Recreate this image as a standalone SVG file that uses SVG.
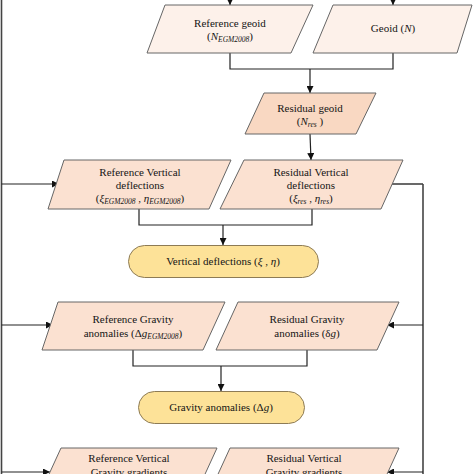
<svg xmlns="http://www.w3.org/2000/svg" width="474" height="474" viewBox="0 0 474 474">
<defs>
<marker id="arr" viewBox="0 0 10 10" refX="10" refY="5" markerWidth="7" markerHeight="7" markerUnits="userSpaceOnUse" orient="auto">
<path d="M0,0 L10,5 L0,10 z" fill="#111"/>
</marker>
</defs>
<style>
.pl{stroke:#666;stroke-width:1}
.light{fill:#fdf1ea}
.mid{fill:#fbe1d1}
.dark{fill:#f9d8c2}
.rr{fill:#fde298;stroke:#8d7b55;stroke-width:1}
.ln{fill:none;stroke:#222;stroke-width:1.2}
.side{fill:none;stroke:#444;stroke-width:1.6}
text{font-family:"Liberation Serif","Times New Roman",serif;font-size:11px;fill:#151515;text-anchor:middle}
.sub{font-size:7.5px;font-style:italic}
.it{font-style:italic}
</style>
<rect width="474" height="474" fill="#fff"/>
<g id="connectors">
<line class="side" x1="1.5" y1="0" x2="1.5" y2="474"/>
<line class="side" x1="423" y1="184" x2="423" y2="474"/>
<line class="ln" x1="230" y1="0" x2="230" y2="5" marker-end="url(#arr)"/>
<line class="ln" x1="393" y1="0" x2="393" y2="5" marker-end="url(#arr)"/>
<polyline class="ln" points="230,53 230,69 393,69 393,53"/>
<line class="ln" x1="310" y1="69" x2="310" y2="93" marker-end="url(#arr)"/>
<line class="ln" x1="310" y1="134" x2="311" y2="160" marker-end="url(#arr)"/>
<line class="ln" x1="1.5" y1="184" x2="59" y2="184" marker-end="url(#arr)"/>
<polyline class="side" points="391,184 423,184"/>
<polyline class="ln" points="139,209 139,225 312,225 312,209"/>
<line class="ln" x1="223" y1="225" x2="223" y2="245" marker-end="url(#arr)"/>
<line class="ln" x1="1.5" y1="325" x2="53" y2="325" marker-end="url(#arr)"/>
<line class="ln" x1="423" y1="325" x2="387" y2="325" marker-end="url(#arr)"/>
<polyline class="ln" points="133,350 133,366 307,366 307,350"/>
<line class="ln" x1="221" y1="366" x2="221" y2="391" marker-end="url(#arr)"/>
<line class="ln" x1="1.5" y1="472" x2="50" y2="472" marker-end="url(#arr)"/>
<line class="ln" x1="423" y1="472" x2="387" y2="472" marker-end="url(#arr)"/>
</g>
<g id="ref-geoid">
<polygon class="pl light" points="165,5 313,5 291,53 147,53"/>
<text x="230" y="27">Reference geoid</text>
<text x="230" y="40">(<tspan class="it">N</tspan><tspan class="sub" dy="2">EGM2008</tspan><tspan dy="-2">)</tspan></text>
</g>
<g id="geoid">
<polygon class="pl light" points="333,5 472,5 457,53 313,53"/>
<text x="393" y="32">Geoid (<tspan class="it">N</tspan>)</text>
</g>
<g id="res-geoid">
<polygon class="pl dark" points="264,93 376,93 356,134 245,134"/>
<text x="310" y="112">Residual geoid</text>
<text x="310" y="125">(<tspan class="it">N</tspan><tspan class="sub" dy="2">res</tspan><tspan dy="-2"> )</tspan></text>
</g>
<g id="ref-vd">
<polygon class="pl mid" points="64,160 231,160 209,209 48,209"/>
<text x="140" y="176">Reference Vertical</text>
<text x="140" y="189">deflections</text>
<text x="140" y="202">(<tspan class="it">ξ</tspan><tspan class="sub" dy="2">EGM2008</tspan><tspan dy="-2"> , </tspan><tspan class="it">η</tspan><tspan class="sub" dy="2">EGM2008</tspan><tspan dy="-2">)</tspan></text>
</g>
<g id="res-vd">
<polygon class="pl mid" points="244,160 403,160 381,209 220,209"/>
<text x="311" y="176">Residual Vertical</text>
<text x="311" y="189">deflections</text>
<text x="311" y="202">(<tspan class="it">ξ</tspan><tspan class="sub" dy="2">res</tspan><tspan dy="-2"> , </tspan><tspan class="it">η</tspan><tspan class="sub" dy="2">res</tspan><tspan dy="-2">)</tspan></text>
</g>
<g id="vd">
<rect class="rr" x="128.5" y="245.5" width="190" height="32" rx="16"/>
<text x="223" y="265">Vertical deflections (<tspan class="it">ξ</tspan> , <tspan class="it">η</tspan>)</text>
</g>
<g id="ref-ga">
<polygon class="pl mid" points="58,302 225,302 203,350 42,350"/>
<text x="133" y="323">Reference Gravity</text>
<text x="133" y="337">anomalies (Δ<tspan class="it">g</tspan><tspan class="sub" dy="2">EGM2008</tspan><tspan dy="-2">)</tspan></text>
</g>
<g id="res-ga">
<polygon class="pl mid" points="238,302 399,302 377,350 216,350"/>
<text x="307" y="323">Residual Gravity</text>
<text x="307" y="337">anomalies (δ<tspan class="it">g</tspan>)</text>
</g>
<g id="ga">
<rect class="rr" x="138.5" y="391.5" width="166" height="32" rx="16"/>
<text x="221" y="411">Gravity anomalies (Δ<tspan class="it">g</tspan>)</text>
</g>
<g id="ref-vgg">
<polygon class="pl mid" points="61,448 217,448 195,496 39,496"/>
<text x="129" y="462">Reference Vertical</text>
<text x="129" y="476">Gravity gradients</text>
</g>
<g id="res-vgg">
<polygon class="pl mid" points="230,448 399,448 377,496 208,496"/>
<text x="304" y="462">Residual Vertical</text>
<text x="304" y="476">Gravity gradients</text>
</g>
</svg>
